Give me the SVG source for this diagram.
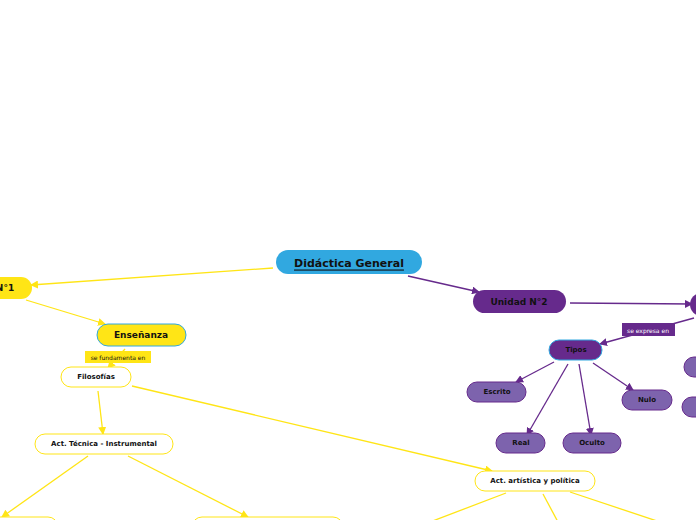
<svg xmlns="http://www.w3.org/2000/svg" width="696" height="520" viewBox="0 0 696 520">
<defs>
<style>
text{font-family:"DejaVu Sans",sans-serif;font-weight:bold;text-anchor:middle;dominant-baseline:central;fill:#111}
text.l{font-weight:normal}
.y{stroke:#ffe516;stroke-width:1.3;fill:none}
.p{stroke:#662a8c;stroke-width:1.3;fill:none}
</style>
<marker id="ay" markerWidth="8" markerHeight="8" refX="7" refY="4" orient="auto" markerUnits="userSpaceOnUse"><path d="M0,0L8,4L0,8z" fill="#ffe516"/></marker>
<marker id="ap" markerWidth="8" markerHeight="8" refX="7" refY="4" orient="auto" markerUnits="userSpaceOnUse"><path d="M0,0L8,4L0,8z" fill="#662a8c"/></marker>
</defs>
<g id="connectors">
<path class="y" d="M273,268L31,285" marker-end="url(#ay)"/>
<path class="y" d="M26,300L105,324" marker-end="url(#ay)"/>
<path class="y" d="M125,349L108,368" marker-end="url(#ay)"/>
<path class="y" d="M98,391L103,434" marker-end="url(#ay)"/>
<path class="y" d="M132,386L492,471" marker-end="url(#ay)"/>
<path class="y" d="M88,456L2,517" marker-end="url(#ay)"/>
<path class="y" d="M128,456L248,517" marker-end="url(#ay)"/>
<path class="y" d="M506,493L430,522"/>
<path class="y" d="M543,494L558,522"/>
<path class="y" d="M570,492L660,522"/>
<path class="p" d="M408,276L479,292" marker-end="url(#ap)"/>
<path class="p" d="M570,303L692,304" marker-end="url(#ap)"/>
<path class="p" d="M694,318L600,344" marker-end="url(#ap)"/>
<path class="p" d="M554,362L516,382" marker-end="url(#ap)"/>
<path class="p" d="M568,364L527,435" marker-end="url(#ap)"/>
<path class="p" d="M579,364L591,435" marker-end="url(#ap)"/>
<path class="p" d="M593,363L633,390" marker-end="url(#ap)"/>
</g>
<g id="didactica"><rect x="276" y="250" width="146" height="24" rx="12" fill="#31a8e0"/><text x="349" y="263" font-size="11" text-decoration="underline">Didáctica General</text></g>
<g id="unidad1"><rect x="-40" y="277" width="72" height="22" rx="11" fill="#ffe516"/><text x="5" y="288" font-size="9">N°1</text></g>
<g id="ensenanza"><rect x="97" y="324" width="89" height="22" rx="11" fill="#ffe516" stroke="#31a8e0"/><text x="141" y="335" font-size="9">Enseñanza</text></g>
<g id="lbl1"><rect x="85" y="351" width="66" height="12" fill="#ffe516"/><text class="l" x="118" y="357" font-size="6">se fundamenta en</text></g>
<g id="filosofias"><rect x="61" y="367" width="70" height="20" rx="10" fill="#fff" stroke="#ffe516"/><text x="96" y="377" font-size="7">Filosofías</text></g>
<g id="tecnica"><rect x="35" y="434" width="138" height="20" rx="10" fill="#fff" stroke="#ffe516"/><text x="104" y="444" font-size="7">Act. Técnica - Instrumental</text></g>
<g id="b1"><rect x="-20" y="517" width="78" height="20" rx="10" fill="#fff" stroke="#ffe516"/></g>
<g id="b2"><rect x="192" y="517" width="151" height="20" rx="10" fill="#fff" stroke="#ffe516"/></g>
<g id="artistica"><rect x="475" y="471" width="120" height="20" rx="10" fill="#fff" stroke="#ffe516"/><text x="535" y="481" font-size="7">Act. artística y política</text></g>
<g id="unidad2"><rect x="473" y="290" width="93" height="23" rx="11.5" fill="#662a8c"/><text x="519" y="302" font-size="9">Unidad N°2</text></g>
<g id="right"><rect x="690" y="293" width="40" height="23" rx="11.5" fill="#662a8c"/></g>
<g id="lbl2"><rect x="622" y="323" width="53" height="13" fill="#662a8c"/><text class="l" x="648" y="330" font-size="6" style="fill:#fff">se expresa en</text></g>
<g id="tipos"><rect x="549" y="340" width="53" height="20" rx="10" fill="#662a8c" stroke="#31a8e0"/><text x="576" y="350" font-size="7">Tipos</text></g>
<g id="escrito"><rect x="467" y="382" width="59" height="20" rx="10" fill="#7d63ad" stroke="#662a8c"/><text x="497" y="392" font-size="7">Escrito</text></g>
<g id="nulo"><rect x="622" y="390" width="50" height="20" rx="10" fill="#7d63ad" stroke="#662a8c"/><text x="647" y="400" font-size="7">Nulo</text></g>
<g id="real"><rect x="496" y="433" width="49" height="20" rx="10" fill="#7d63ad" stroke="#662a8c"/><text x="521" y="443" font-size="7">Real</text></g>
<g id="oculto"><rect x="563" y="433" width="58" height="20" rx="10" fill="#7d63ad" stroke="#662a8c"/><text x="592" y="443" font-size="7">Oculto</text></g>
<g id="r1"><rect x="684" y="357" width="40" height="20" rx="10" fill="#7d63ad" stroke="#662a8c"/></g>
<g id="r2"><rect x="682" y="397" width="40" height="20" rx="10" fill="#7d63ad" stroke="#662a8c"/></g>
</svg>
